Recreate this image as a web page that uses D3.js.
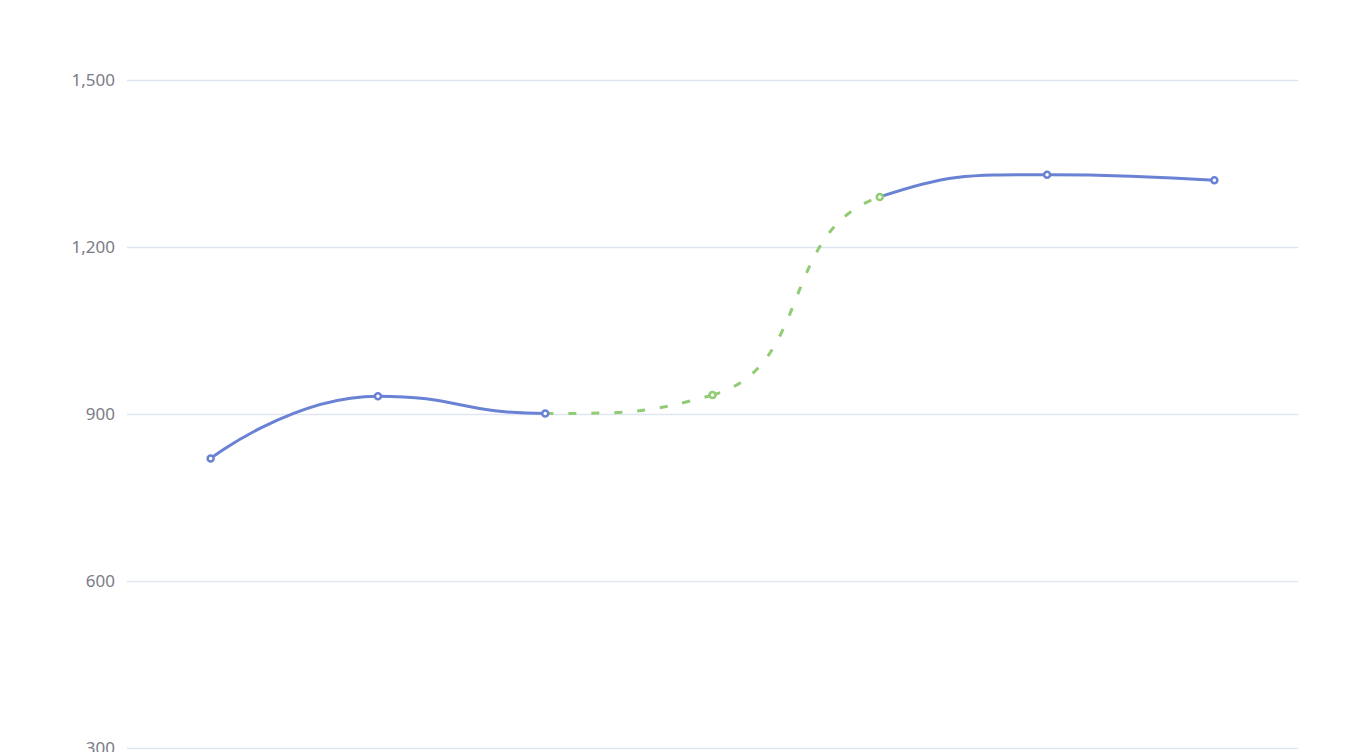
<!DOCTYPE html>
<html>
<head>
<meta charset="utf-8">
<script src="https://cdn.jsdelivr.net/npm/d3@7"></script>
<style>
  html, body { margin: 0; padding: 0; background: #fff; overflow: hidden; }
  svg { display: block; }
</style>
</head>
<body>
<svg id="chart" width="1372" height="752"></svg>
<script>
var categories = ['Mon', 'Tue', 'Wed', 'Thu', 'Fri', 'Sat', 'Sun'];
var values = [820, 932, 901, 934, 1290, 1330, 1320];
// stretch of the line drawn dashed (from Wed to Fri)
var dashedCategories = ['Wed', 'Thu', 'Fri'];
var yTicks = [300, 600, 900, 1200, 1500];

var blue = '#6a82d4';
var green = '#91cc75';

var svg = d3.select('#chart');

var x = d3.scaleBand()
    .domain(categories)
    .range([127, 1298]);

var y = d3.scaleLinear()
    .domain([0, 1500])
    .range([915, 80]);

// echarts style smoothing (smooth = 0.5), returns one bezier per pair of points
var smooth_segments = function(pts, smooth) {
    var segs = [];
    var prevX, prevY, cpx0, cpy0, cpx1, cpy1;
    for (var i = 0; i < pts.length; i++) {
        var px = pts[i][0], py = pts[i][1];
        if (i === 0) {
            cpx0 = px; cpy0 = py;
        } else {
            var nextCpx0, nextCpy0;
            if (i === pts.length - 1) {
                cpx1 = px; cpy1 = py;
            } else {
                var nx = pts[i + 1][0], ny = pts[i + 1][1];
                var vx = nx - prevX, vy = ny - prevY;
                var dx0 = px - prevX, dx1 = nx - px;
                var dy0 = py - prevY, dy1 = ny - py;
                var lenPrev = Math.sqrt(dx0*dx0 + dy0*dy0);
                var lenNext = Math.sqrt(dx1*dx1 + dy1*dy1);
                var ratio = lenNext / (lenNext + lenPrev);
                nextCpx0 = px + vx * smooth * ratio;
                nextCpy0 = py + vy * smooth * ratio;
                nextCpx0 = Math.max(Math.min(nextCpx0, Math.max(nx, px)), Math.min(nx, px));
                nextCpy0 = Math.max(Math.min(nextCpy0, Math.max(ny, py)), Math.min(ny, py));
                vx = nextCpx0 - px; vy = nextCpy0 - py;
                cpx1 = px - vx * lenPrev / lenNext;
                cpy1 = py - vy * lenPrev / lenNext;
                cpx1 = Math.max(Math.min(cpx1, Math.max(prevX, px)), Math.min(prevX, px));
                cpy1 = Math.max(Math.min(cpy1, Math.max(prevY, py)), Math.min(prevY, py));
                vx = px - cpx1; vy = py - cpy1;
                nextCpx0 = px + vx * lenNext / lenPrev;
                nextCpy0 = py + vy * lenNext / lenPrev;
            }
            var p = d3.path();
            p.moveTo(prevX, prevY);
            p.bezierCurveTo(cpx0, cpy0, cpx1, cpy1, px, py);
            segs.push({ from: i - 1, to: i, d: p.toString() });
            cpx0 = nextCpx0; cpy0 = nextCpy0;
        }
        prevX = px; prevY = py;
    }
    return segs;
};

var pts = values.map(function(v, i) {
    return [x(categories[i]) + x.bandwidth() / 2, y(v)];
});

var is_dashed = function(i) {
    return dashedCategories.indexOf(categories[i]) >= 0;
};

// grid lines
svg.append('g')
    .selectAll('line')
    .data(yTicks)
    .enter()
    .append('line')
    .attr('x1', x.range()[0])
    .attr('x2', x.range()[1])
    .attr('y1', function(d) { return Math.round(y(d)) + 0.5; })
    .attr('y2', function(d) { return Math.round(y(d)) + 0.5; })
    .attr('stroke', '#e0e6f1')
    .attr('stroke-width', 1.5);

// y labels
svg.append('g')
    .selectAll('text')
    .data(yTicks)
    .enter()
    .append('text')
    .attr('x', x.range()[0] - 12)
    .attr('y', function(d) { return y(d) - 1; })
    .attr('text-anchor', 'end')
    .attr('dominant-baseline', 'central')
    .attr('fill', '#7a7c85')
    .style('font-family', '"Noto Sans", "Liberation Sans", sans-serif')
    .style('font-size', '17px')
    .text(function(d) { return d3.format(',')(d); });

var segs = smooth_segments(pts, 0.5);

svg.append('g')
    .selectAll('path')
    .data(segs)
    .enter()
    .append('path')
    .attr('d', function(d) { return d.d; })
    .attr('fill', 'none')
    .attr('stroke', function(d) { return (is_dashed(d.from) && is_dashed(d.to)) ? green : blue; })
    .attr('stroke-width', 3)
    .attr('stroke-dasharray', function(d) { return (is_dashed(d.from) && is_dashed(d.to)) ? '8,15' : null; });

// symbols: blue on the solid stretch, green inside the dashed one
svg.append('g')
    .selectAll('circle')
    .data(pts)
    .enter()
    .append('circle')
    .attr('cx', function(d) { return d[0]; })
    .attr('cy', function(d) { return d[1]; })
    .attr('r', 3)
    .attr('fill', '#fff')
    .attr('stroke', function(d, i) {
        return (is_dashed(i) && i !== categories.indexOf(dashedCategories[0])) ? green : blue;
    })
    .attr('stroke-width', 2.5);
</script>
</body>
</html>
